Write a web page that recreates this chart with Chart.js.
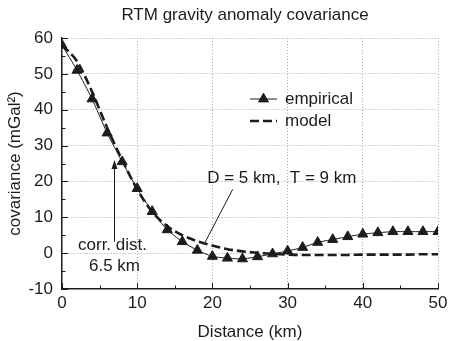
<!DOCTYPE html>
<html>
<head>
<meta charset="utf-8">
<title>RTM gravity anomaly covariance</title>
<script src="https://cdn.jsdelivr.net/npm/chart.js@4.4.1/dist/chart.umd.min.js"></script>
<style>
  html, body { margin: 0; padding: 0; background: #fff; }
  #wrap { width: 474px; height: 341px; }
</style>
</head>
<body>
<div id="wrap"><canvas id="cov-chart"></canvas></div>
<script>
// covariance curves, sampled every 2 km
const distance  = [0, 2, 4, 6, 8, 10, 12, 14, 16, 18, 20, 22, 24, 26, 28, 30, 32, 34, 36, 38, 40, 42, 44, 46, 48, 50];
const empirical = [58, 51, 43, 33.5, 25.5, 18, 11.6, 6.5, 3.2, 0.8, -0.9, -1.4, -1.6, -1, -0.2, 0.6, 1.6, 3, 3.8, 4.6, 5.3, 5.7, 6, 6, 6, 6];
const model     = [58, 53.5, 45, 35, 26, 17.8, 11.5, 7.5, 5, 3.3, 2.1, 1.1, 0.5, 0.1, -0.2, -0.4, -0.5, -0.5, -0.5, -0.5, -0.4, -0.4, -0.4, -0.4, -0.3, -0.3];

const xTicks = [0, 10, 20, 30, 40, 50];
const yTicks = [-10, 0, 10, 20, 30, 40, 50, 60];

const FONT = "'Liberation Sans', Arial, sans-serif";
const INK = '#1c1c1c';
const GRID = '#a8a8a8';

Chart.defaults.font.family = FONT;
Chart.defaults.font.size = 17;
Chart.defaults.color = INK;

const toPoints = ys => distance.map((d, i) => ({ x: d, y: ys[i] }));

// inward tick marks, title, legend and the two annotations
const decorations = {
  id: 'decorations',
  afterDraw(chart) {
    const { ctx, chartArea: a, scales: { x, y } } = chart;
    ctx.save();

    ctx.strokeStyle = INK;
    ctx.lineWidth = 1;
    ctx.beginPath();
    for (let v = 0; v <= 50; v += 5) {
      const px = Math.round(x.getPixelForValue(v)) + 0.5;
      const len = v % 10 === 0 ? 6 : 3.5;
      ctx.moveTo(px, a.bottom);
      ctx.lineTo(px, a.bottom - len);
    }
    for (let v = -10; v <= 60; v += 5) {
      const py = Math.round(y.getPixelForValue(v)) + 0.5;
      const len = v % 10 === 0 ? 6 : 3.5;
      ctx.moveTo(a.left, py);
      ctx.lineTo(a.left + len, py);
    }
    ctx.stroke();

    ctx.fillStyle = INK;
    ctx.font = '17px ' + FONT;
    ctx.textBaseline = 'middle';

    // title
    ctx.textAlign = 'center';
    ctx.fillText('RTM gravity anomaly covariance', 245, 15);

    // legend
    const [emp, mod] = chart.data.datasets;
    ctx.textAlign = 'left';
    ctx.beginPath();
    ctx.moveTo(250, 99);
    ctx.lineTo(277, 99);
    ctx.lineWidth = emp.borderWidth;
    ctx.stroke();
    Chart.helpers.drawPoint(ctx, { pointStyle: 'triangle', radius: emp.pointRadius, borderWidth: 1 }, 263.5, 99);
    ctx.fillText(emp.label, 285, 99);

    ctx.save();
    ctx.lineWidth = mod.borderWidth;
    ctx.setLineDash(mod.borderDash);
    ctx.beginPath();
    ctx.moveTo(250, 121);
    ctx.lineTo(277, 121);
    ctx.stroke();
    ctx.restore();
    ctx.fillText(mod.label, 285, 121);

    // model parameters, with a leader line to the dashed curve
    ctx.fillText('D = 5 km,  T = 9 km', x.getPixelForValue(19.3), y.getPixelForValue(20.8));
    ctx.lineWidth = 1;
    ctx.beginPath();
    ctx.moveTo(x.getPixelForValue(22.7), y.getPixelForValue(17.8));
    ctx.lineTo(x.getPixelForValue(19), y.getPixelForValue(2.9));
    ctx.stroke();

    // correlation distance arrow
    const ax = Math.round(x.getPixelForValue(6.9)) + 0.5;
    const top = y.getPixelForValue(26);
    ctx.beginPath();
    ctx.moveTo(ax, y.getPixelForValue(3.2));
    ctx.lineTo(ax, top + 6);
    ctx.stroke();
    ctx.beginPath();
    ctx.moveTo(ax, top);
    ctx.lineTo(ax - 3, top + 9);
    ctx.lineTo(ax + 3, top + 9);
    ctx.closePath();
    ctx.fill();

    ctx.textAlign = 'center';
    ctx.fillText('corr. dist.', ax - 2, 245);
    ctx.fillText('6.5 km', ax, 266);

    ctx.restore();
  }
};

new Chart(document.getElementById('cov-chart'), {
  type: 'line',
  data: {
    datasets: [{
      label: 'empirical',
      data: toPoints(empirical),
      borderColor: INK,
      backgroundColor: INK,
      borderWidth: 1,
      tension: 0.2,
      pointStyle: 'triangle',
      pointRadius: 5.8,
      pointBorderWidth: 1,
      pointBackgroundColor: INK,
      pointBorderColor: INK,
      order: 2
    }, {
      label: 'model',
      data: toPoints(model),
      borderColor: INK,
      borderWidth: 2.6,
      borderDash: [9, 4],
      cubicInterpolationMode: 'monotone',
      pointRadius: 0,
      order: 1
    }]
  },
  options: {
    responsive: true,
    maintainAspectRatio: false,
    animation: false,
    layout: { padding: { top: 38, right: 36, left: 0, bottom: 0 } },
    plugins: {
      legend: { display: false },
      title: { display: false },
      tooltip: { enabled: false }
    },
    scales: {
      x: {
        type: 'linear',
        min: 0,
        max: 50,
        afterBuildTicks: scale => { scale.ticks = xTicks.map(v => ({ value: v })); },
        afterFit: scale => { scale.height = 52; },
        ticks: { padding: 4, color: INK, font: { size: 17 } },
        grid: {
          drawTicks: false,
          lineWidth: 1,
          color: c => (c.tick && c.tick.value === 0 ? 'rgba(0,0,0,0)' : GRID)
        },
        border: { color: INK, width: 1.5, dash: [1, 2] },
        title: { display: true, text: 'Distance (km)', color: INK, font: { size: 17, lineHeight: 1 }, padding: 0 }
      },
      y: {
        min: -10,
        max: 60,
        afterBuildTicks: scale => { scale.ticks = yTicks.map(v => ({ value: v })); },
        afterFit: scale => { scale.width = 62; },
        ticks: { padding: 9, color: INK, font: { size: 17 } },
        grid: {
          drawTicks: false,
          lineWidth: 1,
          color: c => (c.tick && c.tick.value === -10 ? 'rgba(0,0,0,0)' : GRID)
        },
        border: { color: INK, width: 1.5, dash: [1, 2] },
        title: { display: true, text: 'covariance (mGal²)', color: INK, font: { size: 17 }, padding: { top: 5, bottom: 0 } }
      }
    }
  },
  plugins: [decorations]
});
</script>
</body>
</html>
